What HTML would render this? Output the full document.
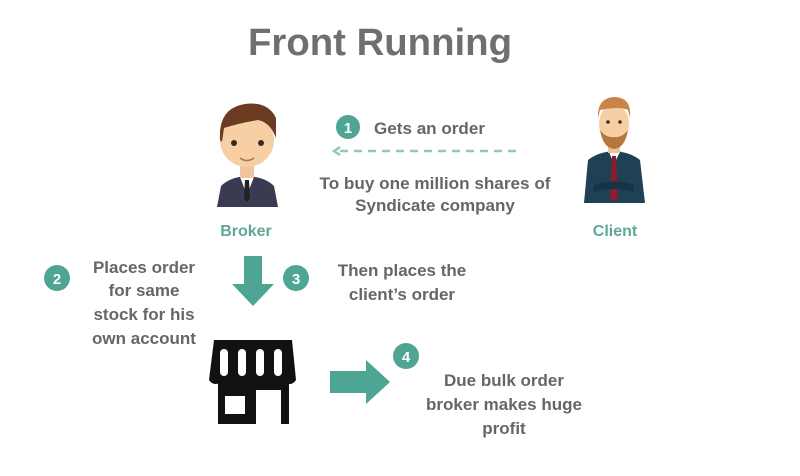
<!DOCTYPE html>
<html><head><meta charset="utf-8"><style>html,body{margin:0;padding:0;background:#fff}svg{display:block}</style></head>
<body>
<svg width="800" height="476" viewBox="0 0 800 476" xmlns="http://www.w3.org/2000/svg" font-family="Liberation Sans, sans-serif" font-weight="bold">
<text x="380" y="55" font-size="38" fill="#6f6f6f" text-anchor="middle" textLength="264" lengthAdjust="spacingAndGlyphs">Front Running</text>

<!-- Broker -->
<g>
<path d="M217 207 L221 186 Q230 177 247 176 Q265 177 274 186 L278 207 Z" fill="#3a3a52"/>
<path d="M240 177 L247 195 L254 177 Z" fill="#fff"/>
<path d="M245 180 L249 180 L250 198 L247 202 L244 198 Z" fill="#222"/>
<rect x="240" y="160" width="14" height="18" fill="#f2c49b"/>
<ellipse cx="247" cy="140" rx="27" ry="27" fill="#f6cfa5"/>
<path d="M220 140 Q218 108 245 104 Q268 101 276 118 L276 138 Q270 122 258 120 Q240 123 224 128 L222 142 Z" fill="#6b3b22"/>
<circle cx="234" cy="143" r="3" fill="#3a2a20"/>
<circle cx="261" cy="143" r="3" fill="#3a2a20"/>
<path d="M240 158 Q247 163 254 158" stroke="#b0704a" stroke-width="1.5" fill="none"/>
</g>
<text x="246" y="236" font-size="16" fill="#5fa898" text-anchor="middle">Broker</text>

<!-- Client -->
<g>
<path d="M584 203 L588 160 Q598 152 614 151 Q630 152 640 160 L645 203 Z" fill="#1f4156"/>
<path d="M609 152 L614 164 L620 152 Z" fill="#fff"/>
<path d="M612 156 L616 156 L618 200 L610 200 Z" fill="#8a1e2a"/>
<path d="M594 185 Q614 178 634 185 L634 192 Q614 186 594 192 Z" fill="#17334a"/>
<rect x="608" y="135" width="12" height="18" fill="#f0c39a"/>
<ellipse cx="614" cy="124" rx="15" ry="20" fill="#f6cfa5"/>
<path d="M600 130 Q603 148 614 149 Q625 148 628 130 Q622 138 614 137 Q606 138 600 130Z" fill="#b8763f"/>
<path d="M598 118 Q597 98 614 97 Q632 97 630 118 L628 110 Q620 106 600 110 Z" fill="#c98547"/>
<circle cx="608" cy="122" r="1.8" fill="#333"/><circle cx="620" cy="122" r="1.8" fill="#333"/>
</g>
<text x="615" y="236" font-size="16" fill="#5fa898" text-anchor="middle">Client</text>

<!-- Step 1 -->
<circle cx="348" cy="127" r="12" fill="#4ea594"/>
<text x="348" y="133" font-size="15" fill="#fff" text-anchor="middle">1</text>
<text x="374" y="134" font-size="17" fill="#666" textLength="111" lengthAdjust="spacingAndGlyphs">Gets an order</text>
<line x1="340" y1="151" x2="518" y2="151" stroke="#8fc9bd" stroke-width="2.5" stroke-dasharray="8,6"/>
<path d="M340 147 L334 151 L340 155" stroke="#8fc9bd" stroke-width="2.5" fill="none"/>
<text x="435" y="189" font-size="17" fill="#666" text-anchor="middle" textLength="231" lengthAdjust="spacingAndGlyphs">To buy one million shares of</text>
<text x="435" y="211" font-size="17" fill="#666" text-anchor="middle">Syndicate company</text>

<!-- Step 2 -->
<circle cx="57" cy="278" r="13" fill="#4ea594"/>
<text x="57" y="284" font-size="15" fill="#fff" text-anchor="middle">2</text>
<g font-size="17" fill="#666" text-anchor="middle">
<text x="144" y="273">Places order</text>
<text x="144" y="296">for same</text>
<text x="144" y="320">stock for his</text>
<text x="144" y="344">own account</text>
</g>

<!-- down arrow -->
<path d="M244 256 L262 256 L262 284 L274 284 L253 306 L232 284 L244 284 Z" fill="#4ea594"/>

<!-- Step 3 -->
<circle cx="296" cy="278" r="13" fill="#4ea594"/>
<text x="296" y="284" font-size="15" fill="#fff" text-anchor="middle">3</text>
<text x="402" y="276" font-size="17" fill="#666" text-anchor="middle">Then places the</text>
<text x="402" y="300" font-size="17" fill="#666" text-anchor="middle">client’s order</text>

<!-- store -->
<g fill="#111">
<path d="M214 340 L292 340 L296 380 Q292 386 286 383 L220 383 Q213 386 209 380 Z"/>
<rect x="218" y="383" width="71" height="41"/>
</g>
<g fill="#fff">
<rect x="220" y="349" width="8" height="27" rx="4"/>
<rect x="238" y="349" width="8" height="27" rx="4"/>
<rect x="256" y="349" width="8" height="27" rx="4"/>
<rect x="274" y="349" width="8" height="27" rx="4"/>
<rect x="225" y="396" width="20" height="18"/>
<rect x="256" y="390" width="25" height="34"/>
</g>

<!-- right arrow -->
<path d="M330 371 L366 371 L366 360 L390 382 L366 404 L366 393 L330 393 Z" fill="#4ea594"/>

<!-- Step 4 -->
<circle cx="406" cy="356" r="13" fill="#4ea594"/>
<text x="406" y="362" font-size="15" fill="#fff" text-anchor="middle">4</text>
<g font-size="17" fill="#666" text-anchor="middle">
<text x="504" y="386">Due bulk order</text>
<text x="504" y="410">broker makes huge</text>
<text x="504" y="434">profit</text>
</g>
</svg>
</body></html>
